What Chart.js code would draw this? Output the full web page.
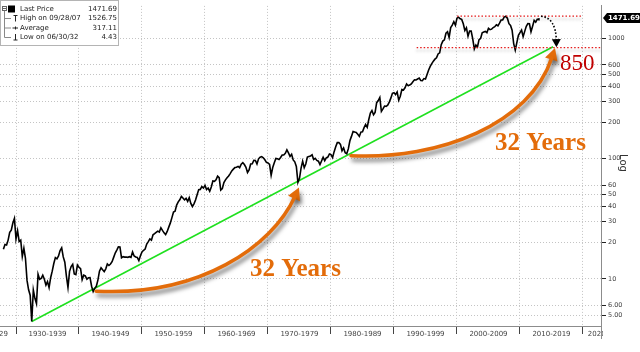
<!DOCTYPE html>
<html>
<head>
<meta charset="utf-8">
<script src="https://cdn.jsdelivr.net/npm/chart.js@4.4.0/dist/chart.umd.min.js"></script>
<style>
  html, body { margin: 0; padding: 0; background: #fff; }
  #wrap { width: 640px; height: 352px; }
</style>
</head>
<body>
<div id="wrap"><canvas id="chart" width="640" height="352"></canvas></div>
<script>
// S&P 500 quarter-end closes, first one is Dec 1927
var firstQuarterEnd = 1928.0;
var closes = [
  17.66,
  19.28, 19.09, 21.00, 24.35,     // 1928
  25.43, 29.16, 31.86, 21.45,     // 1929
  25.14, 20.46, 21.00, 15.34,     // 1930
  18.01, 14.83, 9.71, 8.12,       // 1931
  7.31, 4.43, 8.08, 6.89,         // 1932
  6.23, 10.91, 9.91, 10.10,       // 1933
  10.74, 9.94, 8.88, 9.50,        // 1934
  8.47, 10.23, 11.59, 13.43,      // 1935
  15.03, 14.69, 15.51, 17.18,     // 1936
  18.09, 15.23, 13.76, 10.55,     // 1937
  8.50, 11.56, 12.67, 13.21,      // 1938
  10.98, 10.86, 13.02, 12.49,     // 1939
  12.15, 9.85, 10.73, 10.58,      // 1940
  9.95, 10.21, 10.24, 8.69,       // 1941
  7.84, 8.34, 8.68, 9.77,         // 1942
  11.58, 12.35, 11.89, 11.48,     // 1943
  12.12, 13.30, 12.92, 13.28,     // 1944
  13.90, 15.09, 16.41, 17.36,     // 1945
  18.48, 18.43, 14.96, 15.30,     // 1946
  15.17, 15.21, 15.11, 15.30,     // 1947
  15.11, 16.74, 15.49, 15.20,     // 1948
  15.06, 14.16, 15.58, 16.76,     // 1949
  17.29, 17.69, 19.45, 20.41,     // 1950
  21.48, 20.96, 23.26, 23.77,     // 1951
  24.37, 24.96, 24.54, 26.57,     // 1952
  25.29, 24.14, 23.35, 24.81,     // 1953
  26.94, 29.21, 32.31, 35.98,     // 1954
  36.58, 41.03, 43.67, 45.48,     // 1955
  48.48, 46.97, 45.35, 46.67,     // 1956
  44.11, 47.37, 42.42, 39.99,     // 1957
  42.10, 45.24, 50.06, 55.21,     // 1958
  55.44, 58.47, 56.88, 59.89,     // 1959
  55.34, 56.92, 53.52, 58.11,     // 1960
  65.06, 64.64, 66.73, 71.55,     // 1961
  69.55, 54.75, 56.27, 63.10,     // 1962
  66.57, 69.37, 71.70, 75.02,     // 1963
  78.98, 81.69, 84.18, 84.75,     // 1964
  86.16, 84.12, 89.96, 92.43,     // 1965
  89.23, 84.74, 76.56, 80.33,     // 1966
  90.20, 90.64, 96.71, 96.47,     // 1967
  90.20, 99.58, 102.67, 103.86,   // 1968
  101.51, 97.71, 93.12, 92.06,    // 1969
  89.63, 72.72, 84.21, 92.15,     // 1970
  100.31, 99.70, 98.34, 102.09,   // 1971
  107.20, 107.14, 110.55, 118.05, // 1972
  111.52, 104.26, 108.43, 97.55,  // 1973
  93.98, 86.00, 63.54, 68.56,     // 1974
  83.36, 95.19, 83.87, 90.19,     // 1975
  102.77, 104.28, 105.24, 107.46, // 1976
  98.42, 100.48, 96.53, 95.10,    // 1977
  89.21, 95.53, 102.54, 96.11,    // 1978
  101.59, 102.91, 109.32, 107.94, // 1979
  102.09, 114.24, 125.46, 135.76, // 1980
  136.00, 131.21, 116.18, 122.55, // 1981
  111.96, 109.61, 120.42, 140.64, // 1982
  152.96, 168.11, 166.07, 164.93, // 1983
  159.18, 153.18, 166.10, 167.24, // 1984
  180.66, 191.85, 182.08, 211.28, // 1985
  238.90, 250.84, 231.32, 242.17, // 1986
  291.70, 304.00, 321.83, 247.08, // 1987
  258.89, 273.50, 271.91, 277.72, // 1988
  294.87, 317.98, 349.15, 353.40, // 1989
  339.94, 358.02, 306.05, 330.22, // 1990
  375.22, 371.16, 387.86, 417.09, // 1991
  403.69, 408.14, 417.80, 435.71, // 1992
  451.67, 450.53, 458.93, 466.45, // 1993
  445.77, 444.27, 462.69, 459.27, // 1994
  500.71, 544.75, 584.41, 615.93, // 1995
  645.50, 670.63, 687.31, 740.74, // 1996
  757.12, 885.14, 947.28, 970.43, // 1997
  1101.75, 1133.84, 1017.01, 1229.23, // 1998
  1286.37, 1372.71, 1282.71, 1469.25, // 1999
  1498.58, 1454.60, 1436.51, 1320.28, // 2000
  1160.33, 1224.42, 1040.94, 1148.08, // 2001
  1147.39, 989.82, 815.28, 879.82,    // 2002
  848.18, 974.50, 995.97, 1111.92,    // 2003
  1126.21, 1140.84, 1114.58, 1211.92, // 2004
  1180.59, 1191.33, 1228.81, 1248.29, // 2005
  1294.83, 1270.20, 1335.85, 1418.30, // 2006
  1420.86, 1503.35, 1526.75, 1468.36, // 2007
  1322.70, 1280.00, 1166.36, 903.25,  // 2008
  797.87, 919.32, 1057.08, 1115.10,   // 2009
  1169.43, 1030.71, 1141.20, 1257.64, // 2010
  1325.83, 1320.64, 1131.42, 1257.60, // 2011
  1408.47, 1362.16, 1440.67, 1426.19  // 2012
];
var lastDate = 2013.03;
var lastPrice = 1471.69;

var xMin = 1927.46, xMax = 2022.86;
var yMin = 4.058, yMax = 1859;
var decadeTicks = [1930, 1940, 1950, 1960, 1970, 1980, 1990, 2000, 2010, 2020];
// where each decade label is centred (the two cut-off ones sit nearer the visible part)
var decadeMids = [1925.7, 1935, 1945, 1955, 1965, 1975, 1985, 1995, 2005, 2015, 2023.8];
var decadeLabels = ['1920-1929', '1930-1939', '1940-1949', '1950-1959', '1960-1969', '1970-1979',
                    '1980-1989', '1990-1999', '2000-2009', '2010-2019', '2020-2029'];
var yTicks = [5, 6, 10, 20, 30, 40, 50, 60, 100, 200, 300, 400, 500, 600, 1000];

// trend line 1932 low -> 850 target
var trendX = [1932.5, 2015.25];
var trendY = [4.43, 850];
// red dotted levels
var highX = [2000.0, 2020.0], highY = [1526.75, 1526.75];
var lowX = [1993.6, 2022.86], lowY = [835, 835];

var legendRows = [
  ['Last Price', '1471.69'],
  ['High on 09/28/07', '1526.75'],
  ['Average', '317.11'],
  ['Low on 06/30/32', '4.43']
];

// annotation anchors, in data units (year, price)
var arrow1 = [[1942.70, 7.91], [1959.21, 7.13], [1970.63, 18.59], [1974.92, 57.4]];
var arrow2 = [[1983.17, 105.8], [1997.30, 97.2], [2011.59, 194.9], [2015.56, 828.6]];
var dotArrow = [[2013.33, 1527], [2015.71, 1484], [2015.79, 844]];
var years1Pos = [1967.14, 10.58];
var years2Pos = [2006.03, 117.3];
var targetPos = [2016.35, 548];

var priceData = [];
for (var i = 0; i < closes.length; i++) {
  priceData.push({x: firstQuarterEnd + 0.25 * i, y: closes[i]});
}
priceData.push({x: lastDate, y: lastPrice});

function pairs(xs, ys) {
  var out = [];
  for (var k = 0; k < xs.length; k++) out.push({x: xs[k], y: ys[k]});
  return out;
}

function toPx(chart, p) {
  return [chart.scales.x.getPixelForValue(p[0]), chart.scales.y.getPixelForValue(p[1])];
}

function arrowHead(ctx, tip, from, len, half) {
  var dx = tip[0] - from[0], dy = tip[1] - from[1];
  var d = Math.sqrt(dx * dx + dy * dy);
  dx /= d; dy /= d;
  var bx = tip[0] - dx * len, by = tip[1] - dy * len;
  ctx.beginPath();
  ctx.moveTo(tip[0], tip[1]);
  ctx.lineTo(bx - dy * half, by + dx * half);
  ctx.lineTo(bx + dy * half, by - dx * half);
  ctx.closePath();
  ctx.fill();
  return [bx + dx * 2, by + dy * 2];
}

function orangeArrow(chart, spec) {
  var ctx = chart.ctx;
  var p0 = toPx(chart, spec[0]), c1 = toPx(chart, spec[1]), c2 = toPx(chart, spec[2]), tip = toPx(chart, spec[3]);
  ctx.save();
  ctx.shadowColor = 'rgba(0,0,0,0.5)';
  ctx.shadowBlur = 4;
  ctx.shadowOffsetX = 2;
  ctx.shadowOffsetY = 4;
  ctx.fillStyle = '#e36c0a';
  ctx.strokeStyle = '#e36c0a';
  ctx.lineWidth = 3.5;
  ctx.lineCap = 'round';
  var end = arrowHead(ctx, tip, c2, 12, 6.5);
  ctx.beginPath();
  ctx.moveTo(p0[0], p0[1]);
  ctx.bezierCurveTo(c1[0], c1[1], c2[0], c2[1], end[0], end[1]);
  ctx.stroke();
  ctx.restore();
}

var annotations = {
  id: 'annotations',
  beforeDatasetDraw: function(chart, args) {
    var ds = chart.data.datasets[args.index];
    chart.ctx.save();
    if (ds.shadow) {
      chart.ctx.shadowColor = 'rgba(0,0,0,0.35)';
      chart.ctx.shadowBlur = 3;
      chart.ctx.shadowOffsetY = 3;
    }
  },
  afterDatasetDraw: function(chart) {
    chart.ctx.restore();
  },
  afterDraw: function(chart) {
    var ctx = chart.ctx, area = chart.chartArea, xs = chart.scales.x;

    // decade labels between tick marks
    ctx.save();
    ctx.beginPath();
    ctx.rect(0, area.bottom, area.right + 2, 30);
    ctx.clip();
    ctx.font = '7px "DejaVu Sans"';
    ctx.fillStyle = '#444';
    ctx.textAlign = 'center';
    ctx.textBaseline = 'middle';
    for (var i = 0; i < decadeLabels.length; i++) {
      ctx.fillText(decadeLabels[i], xs.getPixelForValue(decadeMids[i]), area.bottom + 8);
    }
    ctx.restore();

    // right axis line runs a bit below the plot
    ctx.save();
    ctx.strokeStyle = '#8c8c8c';
    ctx.beginPath();
    ctx.moveTo(area.right + 0.5, area.bottom);
    ctx.lineTo(area.right + 0.5, area.bottom + 13);
    ctx.stroke();
    ctx.restore();

    orangeArrow(chart, arrow1);
    orangeArrow(chart, arrow2);

    // dotted black arrow to the target
    var d0 = toPx(chart, dotArrow[0]), dc = toPx(chart, dotArrow[1]), dt = toPx(chart, dotArrow[2]);
    ctx.save();
    ctx.fillStyle = '#000';
    ctx.strokeStyle = '#000';
    ctx.lineWidth = 1.6;
    var dEnd = arrowHead(ctx, dt, dc, 8, 4.5);
    ctx.setLineDash([1.6, 1.8]);
    ctx.beginPath();
    ctx.moveTo(d0[0], d0[1]);
    ctx.quadraticCurveTo(dc[0], dc[1], dEnd[0], dEnd[1]);
    ctx.stroke();
    ctx.restore();

    // texts
    ctx.save();
    ctx.textAlign = 'left';
    ctx.textBaseline = 'alphabetic';
    ctx.font = 'bold 25px "Liberation Serif"';
    ctx.fillStyle = '#e36c0a';
    var t1 = toPx(chart, years1Pos), t2 = toPx(chart, years2Pos), t3 = toPx(chart, targetPos);
    ctx.fillText('32 Years', t1[0], t1[1]);
    ctx.fillText('32 Years', t2[0], t2[1]);
    ctx.font = '23px "Liberation Serif"';
    ctx.fillStyle = '#c00000';
    ctx.fillText('850', t3[0], t3[1]);
    ctx.restore();

    // last price tag
    var ly = chart.scales.y.getPixelForValue(lastPrice);
    ctx.save();
    ctx.fillStyle = '#000';
    ctx.beginPath();
    ctx.moveTo(area.right + 2, ly);
    ctx.lineTo(area.right + 6, ly - 5);
    ctx.lineTo(640, ly - 5);
    ctx.lineTo(640, ly + 5);
    ctx.lineTo(area.right + 6, ly + 5);
    ctx.closePath();
    ctx.fill();
    ctx.fillStyle = '#fff';
    ctx.font = 'bold 7px "DejaVu Sans"';
    ctx.textBaseline = 'middle';
    ctx.fillText(lastPrice.toFixed(2), area.right + 7, ly + 0.5);
    ctx.restore();

    // "Log" axis note
    ctx.save();
    ctx.translate(623, 163);
    ctx.rotate(Math.PI / 2);
    ctx.font = '10px "DejaVu Sans"';
    ctx.fillStyle = '#333';
    ctx.textAlign = 'center';
    ctx.textBaseline = 'middle';
    ctx.fillText('Log', 0, 0);
    ctx.restore();

    // legend box, top left
    ctx.save();
    ctx.fillStyle = '#fff';
    ctx.fillRect(0, 0, 119, 46);
    ctx.strokeStyle = '#b4b4b4';
    ctx.lineWidth = 1;
    ctx.strokeRect(0.5, 0.5, 118, 45);
    var rowY = [9, 18.5, 28, 37.5];
    ctx.font = '7px "DejaVu Sans"';
    ctx.fillStyle = '#222';
    ctx.textBaseline = 'middle';
    for (var r = 0; r < legendRows.length; r++) {
      ctx.textAlign = 'left';
      ctx.fillText(legendRows[r][0], 20, rowY[r]);
      ctx.textAlign = 'right';
      ctx.fillText(legendRows[r][1], 117, rowY[r]);
    }
    ctx.strokeStyle = '#666';
    ctx.strokeRect(2.5, 6.5, 4, 4);
    ctx.beginPath();
    ctx.moveTo(3, 8.5); ctx.lineTo(6.5, 8.5);
    ctx.stroke();
    ctx.fillStyle = '#000';
    ctx.fillRect(8, 5.5, 7, 7);
    ctx.strokeStyle = '#888';
    ctx.beginPath();
    ctx.moveTo(4.5, 11); ctx.lineTo(4.5, rowY[3]);
    for (var b = 1; b < 4; b++) { ctx.moveTo(4.5, rowY[b]); ctx.lineTo(11, rowY[b]); }
    ctx.stroke();
    ctx.strokeStyle = '#222';
    ctx.beginPath();
    ctx.moveTo(13.5, 15.5); ctx.lineTo(17.5, 15.5);
    ctx.moveTo(15.5, 15.5); ctx.lineTo(15.5, 21.5);
    ctx.moveTo(12.5, 28); ctx.lineTo(18, 28);
    ctx.moveTo(15.5, 26.5); ctx.lineTo(15.5, 29.5);
    ctx.moveTo(15.5, 34); ctx.lineTo(15.5, 40);
    ctx.moveTo(13.5, 40); ctx.lineTo(17.5, 40);
    ctx.stroke();
    ctx.restore();
  }
};

var ctxMain = document.getElementById('chart').getContext('2d');
new Chart(ctxMain, {
  type: 'line',
  data: {
    datasets: [
      { data: pairs(trendX, trendY), borderColor: '#1fe01f', borderWidth: 1.6, pointRadius: 0, order: 3 },
      { data: priceData, borderColor: '#000', borderWidth: 1.6, pointRadius: 0, order: 2 },
      { data: pairs(highX, highY), borderColor: '#e41a1a', borderWidth: 1.3, borderDash: [1.5, 2],
        pointRadius: 0, order: 1, shadow: true },
      { data: pairs(lowX, lowY), borderColor: '#e41a1a', borderWidth: 1.3, borderDash: [1.5, 2],
        pointRadius: 0, order: 1, shadow: true }
    ]
  },
  options: {
    responsive: false,
    animation: false,
    devicePixelRatio: 1,
    layout: { padding: 0 },
    plugins: { legend: { display: false }, tooltip: { enabled: false } },
    scales: {
      x: {
        type: 'linear',
        min: xMin,
        max: xMax,
        afterBuildTicks: function(s) { s.ticks = decadeTicks.map(function(v) { return {value: v}; }); },
        afterFit: function(s) { s.height = 26; },
        grid: { color: '#c4c4c4', tickColor: '#444', tickLength: 8, tickBorderDash: [] },
        border: { display: true, color: '#8c8c8c', dash: [1, 2] },
        ticks: { display: false }
      },
      y: {
        type: 'logarithmic',
        position: 'right',
        min: yMin,
        max: yMax,
        afterBuildTicks: function(s) { s.ticks = yTicks.map(function(v) { return {value: v}; }); },
        afterFit: function(s) { s.width = 39; },
        grid: { color: '#c4c4c4', tickColor: '#222', tickLength: 5, tickBorderDash: [] },
        border: { display: true, color: '#8c8c8c', dash: [1, 2] },
        ticks: {
          padding: 2,
          color: '#444',
          font: { family: 'DejaVu Sans', size: 6.5 },
          callback: function(v) { return v < 10 ? Number(v).toFixed(2) : String(v); }
        }
      }
    }
  },
  plugins: [annotations]
});
</script>
</body>
</html>
